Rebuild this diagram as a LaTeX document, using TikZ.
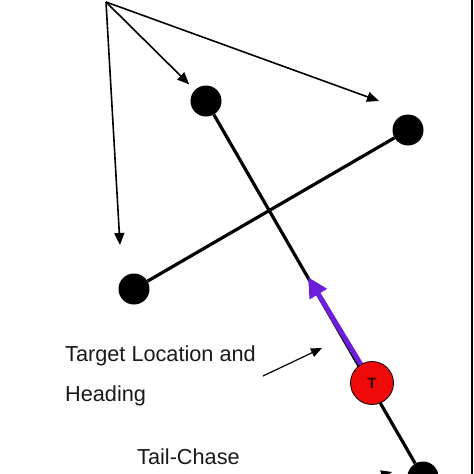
\documentclass[tikz,border=0pt]{standalone}
\usepackage{fontspec}
\setmainfont{Liberation Sans}
\usetikzlibrary{arrows.meta}
\definecolor{headpurple}{RGB}{108,30,218}
\definecolor{tred}{RGB}{240,10,10}
\definecolor{txt}{RGB}{25,25,25}
\tikzset{
  dot/.style={circle, fill=black, minimum size=31pt, inner sep=0pt},
  tdot/.style={circle, fill=tred, draw=black, line width=0.8pt, minimum size=43pt, inner sep=0pt, font=\fontsize{15}{15}\selectfont\bfseries, text=black!80!red},
  link/.style={line width=3.2pt},
  ray/.style={line width=1.6pt, -{Triangle[length=12pt,width=10pt]}},
  note/.style={line width=1.2pt, -{Triangle[length=11pt,width=9pt]}},
  heading/.style={line width=5pt, color=headpurple, -{Triangle[length=20pt,width=19pt]}},
  lbl/.style={font=\fontsize{21.7}{21.7}\selectfont, text=txt, anchor=west, inner sep=0pt}
}
\begin{document}
\begin{tikzpicture}[x=1pt,y=-1pt]
\useasboundingbox (0,0) rectangle (474,474);
\begin{scope}
\clip (0,0) rectangle (474,474);
% frame edge on the right
\draw[line width=2.5pt] (472,-5) -- (472,480);
% points
\coordinate (O) at (106,2);
\coordinate (rC) at (120,245);
\coordinate (rB) at (379,101);
\coordinate (hT) at (308,277);
\coordinate (n1) at (263,376);
\coordinate (n2) at (322,348);
\coordinate (m1) at (300,496);
\coordinate (m2) at (392,472);
\node[dot] (A) at (206,101) {};
\node[dot] (B) at (408,130) {};
\node[dot] (C) at (134,289) {};
\node[dot] (D) at (423,477) {};
% links
\draw[link] (A) -- (D);
\draw[link] (B) -- (C);
\node[tdot] (T) at (372,383) {T};
% rays from the origin
\draw[ray] (O) -- (rC);
\draw[ray, shorten >=8pt] (O) -- (A);
\draw[ray] (O) -- (rB);
% heading
\draw[heading] (T) -- (hT);
% labels
\node[lbl] (L1) at (65,356) {Target Location and};
\node[lbl] (L2) at (65,396) {Heading};
\node[lbl] (L3) at (137,457) {Tail-Chase};
\draw[note] (n1) -- (n2);
\draw[note] (m1) -- (m2);
\end{scope}
\end{tikzpicture}
\end{document}
